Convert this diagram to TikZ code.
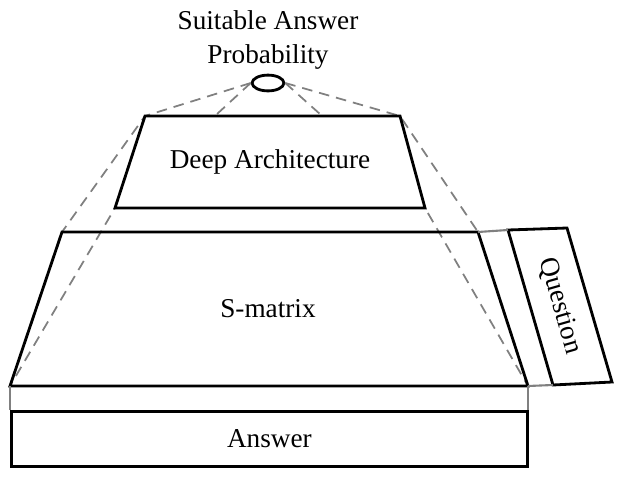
\documentclass[tikz,border=0pt]{standalone}
\usepackage{fontspec}
\setmainfont{Liberation Serif}
\usetikzlibrary{shapes.geometric}
\begin{document}
\begin{tikzpicture}[x=0.02cm,y=-0.02cm,
 box/.style={draw,line width=1.6pt,line join=miter},
 gdash/.style={draw=gray,dash pattern=on 6pt off 4pt,line width=1pt},
 lbl/.style={font=\fontsize{15.5}{19}\selectfont}]
\useasboundingbox (0,0) rectangle (627,481);
\coordinate (a1) at (145,116); \coordinate (a2) at (400,116);
\coordinate (a3) at (425,208); \coordinate (a4) at (115,208);
\coordinate (b1) at (62,232); \coordinate (b2) at (478,232);
\coordinate (b3) at (528,386); \coordinate (b4) at (10,386);
\node[draw,line width=1.6pt,ellipse,minimum width=18.1pt,minimum height=9pt,inner sep=0pt] (e) at (268,83) {};
\node[lbl,align=center] (t) at (268,40) {Suitable Answer\\Probability};
\draw[gdash] (e.west) -- (a1) -- (b1);
\draw[gdash] (e.west) -- (a4) -- (b4);
\draw[gdash] (e.east) -- (a2) -- (b2);
\draw[gdash] (e.east) -- (a3) -- (b3);
\fill[white] (a1)--(a2)--(a3)--(a4)--cycle;
\draw[box] (a1)--(a2)--(a3)--(a4)--cycle;
\node[lbl] (da) at (270,162) {Deep Architecture};
\draw[box] (b1)--(b2)--(b3)--(b4)--cycle;
\node[lbl] (sm) at (268,309) {S-matrix};
\draw[draw=gray,line width=1.2pt] (10,386)--(10,410) (528,386)--(528,410);
\node[box,minimum width=293.7pt,minimum height=31.2pt,anchor=north west,inner sep=0pt] (ans) at (10,410) {};
\node[lbl] at (ans.center) {Answer};
\coordinate (q1) at (508,230); \coordinate (q2) at (567,228);
\coordinate (q3) at (612,382); \coordinate (q4) at (553,385);
\draw[box] (q1)--(q2)--(q3)--(q4)--cycle;
\node[lbl,rotate=-74] (q) at (560,306) {Question};
\draw[draw=gray,line width=1.2pt] (b2)--(q1) (b3)--(q4);
\end{tikzpicture}
\end{document}
